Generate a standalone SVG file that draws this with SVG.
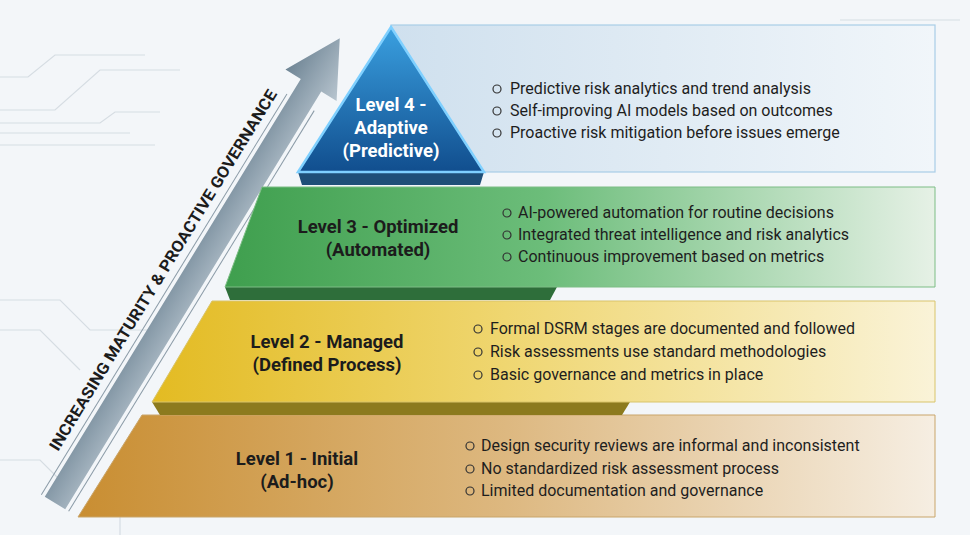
<svg xmlns="http://www.w3.org/2000/svg" width="970" height="535" viewBox="0 0 970 535">
<defs>
<style>
.lbl{font-family:Roboto,"Liberation Sans",sans-serif;font-weight:bold;font-size:18.5px;text-anchor:middle;fill:#1c1c1c}
.b{font-family:Roboto,"Liberation Sans",sans-serif;font-size:16px;fill:#1e1e1e}
.dot{fill:none;stroke:#333;stroke-width:1.2}
.trace{fill:none;stroke:#d6dde3;stroke-width:1.2}
</style>
<linearGradient id="bg4" x1="0" x2="1"><stop offset="0" stop-color="#cfe0ee"/><stop offset="1" stop-color="#f1f6fa"/></linearGradient>
<linearGradient id="tri" x1="0" y1="0" x2="0" y2="1"><stop offset="0" stop-color="#3aa0e0"/><stop offset="1" stop-color="#114e8e"/></linearGradient>
<linearGradient id="g3" x1="0" x2="1"><stop offset="0" stop-color="#3f9f4e"/><stop offset="0.45" stop-color="#6cbd7a"/><stop offset="1" stop-color="#e6f1e6"/></linearGradient>
<linearGradient id="g2" x1="0" x2="1"><stop offset="0" stop-color="#e3bb22"/><stop offset="0.45" stop-color="#efd670"/><stop offset="1" stop-color="#faf3d8"/></linearGradient>
<linearGradient id="g1" x1="0" x2="1"><stop offset="0" stop-color="#c98e32"/><stop offset="0.5" stop-color="#ddb880"/><stop offset="1" stop-color="#f6eee2"/></linearGradient>
<linearGradient id="arr" x1="0" y1="0" x2="0" y2="1"><stop offset="0" stop-color="#6f8595"/><stop offset="1" stop-color="#b8c5cf"/></linearGradient>
</defs>
<rect width="970" height="535" fill="#f3f6f9"/>
<g id="traces">
<path class="trace" d="M0 77 H28 L55 55 H145"/>
<path class="trace" d="M0 110 H55 L100 70 H180"/>
<path class="trace" d="M0 123 H100 L115 112 H160"/>
<path class="trace" d="M0 133 H130"/>
<path class="trace" d="M0 145 H155"/>
<path class="trace" d="M0 300 H60 L90 330 H160"/>
<path class="trace" d="M0 330 H40 L80 370"/>
<path class="trace" d="M0 460 H40 L60 480"/>
<path class="trace" d="M120 535 V470"/>
<path class="trace" d="M840 20 H960"/>
</g>
<g id="arrow">
<g transform="translate(55,503) rotate(-58.5)">
<path d="M0 -12 H490 V-30 L545 0 L490 30 V12 H0 Z" fill="url(#arr)"/>
<line x1="0" y1="-16" x2="470" y2="-16" stroke="#8a9aa6" stroke-width="1"/>
<line x1="0" y1="16" x2="470" y2="16" stroke="#8a9aa6" stroke-width="1"/>
<text x="255" y="-24" text-anchor="middle" font-family="Roboto,'Liberation Sans',sans-serif" font-weight="bold" font-size="16" fill="#1c1c1c" textLength="420" lengthAdjust="spacingAndGlyphs">INCREASING MATURITY &amp; PROACTIVE GOVERNANCE</text>
</g>
</g>
<g id="level1">
<path d="M78 517 L142 415 H935 V517 Z" fill="url(#g1)" stroke="#c9a56b" stroke-width="1"/>
<text class="lbl" x="297" y="465">Level 1 - Initial</text>
<text class="lbl" x="297" y="488">(Ad-hoc)</text>
<circle class="dot" cx="470" cy="446" r="4"/><text class="b" x="481" y="451">Design security reviews are informal and inconsistent</text>
<circle class="dot" cx="470" cy="469" r="4"/><text class="b" x="481" y="474">No standardized risk assessment process</text>
<circle class="dot" cx="470" cy="491" r="4"/><text class="b" x="481" y="496">Limited documentation and governance</text>
</g>
<g id="level2">
<path d="M152 402 H630 L622 415 H160 Z" fill="#8c7a1e"/>
<path d="M152 402 L212 301 H935 V402 Z" fill="url(#g2)" stroke="#d9c46a" stroke-width="1"/>
<text class="lbl" x="327" y="348">Level 2 - Managed</text>
<text class="lbl" x="327" y="371">(Defined Process)</text>
<circle class="dot" cx="478" cy="329" r="4"/><text class="b" x="490" y="334">Formal DSRM stages are documented and followed</text>
<circle class="dot" cx="478" cy="352" r="4"/><text class="b" x="490" y="357">Risk assessments use standard methodologies</text>
<circle class="dot" cx="478" cy="375" r="4"/><text class="b" x="490" y="380">Basic governance and metrics in place</text>
</g>
<g id="level3">
<path d="M225 287 H557 L550 300 H230 Z" fill="#2e6e3a"/>
<path d="M225 287 L262 187 H935 V287 Z" fill="url(#g3)" stroke="#7dbd85" stroke-width="1"/>
<text class="lbl" x="378" y="233">Level 3 - Optimized</text>
<text class="lbl" x="378" y="256">(Automated)</text>
<circle class="dot" cx="507" cy="213" r="4"/><text class="b" x="518" y="218">AI-powered automation for routine decisions</text>
<circle class="dot" cx="507" cy="235" r="4"/><text class="b" x="518" y="240">Integrated threat intelligence and risk analytics</text>
<circle class="dot" cx="507" cy="257" r="4"/><text class="b" x="518" y="262">Continuous improvement based on metrics</text>
</g>
<g id="level4">
<rect x="391" y="25" width="544" height="147" fill="url(#bg4)" stroke="#a9cde6" stroke-width="1.2"/>
<path d="M298 172 H484 L480 185 H302 Z" fill="#1f4f78"/>
<path d="M391 27 L484 172 H298 Z" fill="url(#tri)" stroke="#7fd0ff" stroke-width="2.5"/>
<text x="391" y="111" class="lbl" style="fill:#fff">Level 4 -</text>
<text x="391" y="134" class="lbl" style="fill:#fff">Adaptive</text>
<text x="391" y="157" class="lbl" style="fill:#fff">(Predictive)</text>
<circle class="dot" cx="497" cy="89" r="4"/><text class="b" x="510" y="94">Predictive risk analytics and trend analysis</text>
<circle class="dot" cx="497" cy="111" r="4"/><text class="b" x="510" y="116">Self-improving AI models based on outcomes</text>
<circle class="dot" cx="497" cy="133" r="4"/><text class="b" x="510" y="138">Proactive risk mitigation before issues emerge</text>
</g>
</svg>
